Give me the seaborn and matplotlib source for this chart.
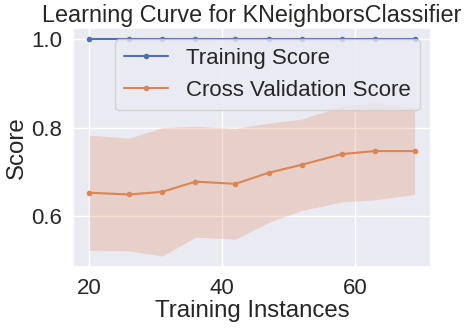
import numpy as np
import pandas as pd
import matplotlib
matplotlib.use("Agg")
import matplotlib.pyplot as plt
import seaborn as sns

train_sizes = [20, 26, 31, 36, 42, 47, 52, 58, 63, 69]
train_mean = [1.0, 1.0, 1.0, 1.0, 1.0, 1.0, 1.0, 1.0, 1.0, 1.0]
train_std = [0.0, 0.0, 0.0, 0.0, 0.0, 0.0, 0.0, 0.0, 0.0, 0.0]
cv_mean = [0.653, 0.649, 0.655, 0.678, 0.673, 0.698, 0.716, 0.740, 0.747, 0.747]
cv_std = [0.130, 0.127, 0.145, 0.125, 0.125, 0.112, 0.103, 0.108, 0.110, 0.098]

title = "Learning Curve for KNeighborsClassifier"
xlabel = "Training Instances"
ylabel = "Score"

sns.set_theme(style="darkgrid")
plt.rcParams['font.family'] = ['Liberation Sans', 'DejaVu Sans']

fs = 16
fig, ax = plt.subplots(figsize=(4.74, 3.30), dpi=100)
fig.subplots_adjust(left=0.154, right=0.909, top=0.915, bottom=0.191)

pal = sns.color_palette("deep")
df_train = pd.DataFrame({"x": train_sizes, "y": train_mean})
df_cv = pd.DataFrame({"x": train_sizes, "y": cv_mean})

tm = np.array(train_mean); ts = np.array(train_std)
cm = np.array(cv_mean); cs = np.array(cv_std)
ax.fill_between(train_sizes, tm - ts, tm + ts, color=pal[0], alpha=0.25, linewidth=0)
ax.fill_between(train_sizes, cm - cs, cm + cs, color=pal[1], alpha=0.25, linewidth=0)

sns.lineplot(data=df_train, x="x", y="y", ax=ax, color=pal[0], marker="o",
             markersize=4, markeredgewidth=0, linewidth=1.5, label="Training Score")
sns.lineplot(data=df_cv, x="x", y="y", ax=ax, color=pal[1], marker="o",
             markersize=4, markeredgewidth=0, linewidth=1.5, label="Cross Validation Score")

ax.set_title(title, fontsize=16.8, pad=4)
ax.set_xlabel(xlabel, fontsize=17.3, labelpad=1)
ax.set_ylabel(ylabel, fontsize=17.3, labelpad=2)
ax.set_xticks([20, 40, 60])
ax.set_yticks([0.6, 0.8, 1.0])
ax.tick_params(labelsize=fs, pad=2)
ax.legend(loc="upper right", fontsize=fs, frameon=True)

fig.savefig("out.png", dpi=100)
